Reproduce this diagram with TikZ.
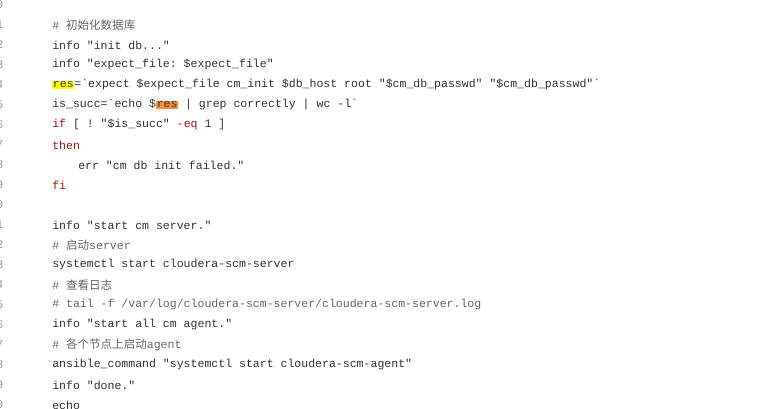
\documentclass[tikz,border=0pt]{standalone}
\usepackage{fontspec}
\setmonofont{Liberation Mono}
\newfontfamily\cjk{Noto Sans CJK SC}
\definecolor{txt}{HTML}{333333}
\definecolor{cmt}{HTML}{666666}
\definecolor{kw}{HTML}{A31515}
\definecolor{lno}{HTML}{999999}
\definecolor{hly}{HTML}{FFFF00}
\definecolor{hlo}{HTML}{F8913D}
\newcommand{\kwd}[1]{\textcolor{kw}{#1}}
\newcommand{\hy}[1]{{\setlength{\fboxsep}{0.5pt}\colorbox{hly}{#1}}}
\newcommand{\ho}[1]{{\setlength{\fboxsep}{0.5pt}\colorbox{hlo}{#1}}}
\begin{document}
\begin{tikzpicture}[x=0.75pt,y=-0.75pt,
  code/.style={anchor=west,inner sep=0pt,font=\ttfamily\fontsize{8.65}{10}\selectfont,text=txt},
  lnum/.style={anchor=west,inner sep=0pt,font=\ttfamily\fontsize{8.65}{10}\selectfont,text=lno}]
\useasboundingbox[fill=white] (0,0) rectangle (782,408);
\foreach \i [evaluate=\i as \d using {int(mod(\i,10))}] in {0,...,20}
  \node[lnum] (n\i) at (-4,{5+20*\i}) {\d};
\node[code,text=cmt] (l1) at (52,25) {\# {\cjk 初始化数据库}};
\node[code] (l2) at (52,45) {info "init db..."};
\node[code] (l3) at (52,65) {info "expect\_file: \$expect\_file"};
\node[code] (l4) at (52,85) {\hy{res}=`expect \$expect\_file cm\_init \$db\_host root "\$cm\_db\_passwd" "\$cm\_db\_passwd"`};
\node[code] (l5) at (52,105) {is\_succ=`echo \$\ho{res} | grep correctly | wc -l`};
\node[code] (l6) at (52,125) {\kwd{if} [ ! "\$is\_succ" \kwd{-eq} 1 ]};
\node[code] (l7) at (52,145) {\kwd{then}};
\node[code] (l8) at (78,165) {err "cm db init failed."};
\node[code] (l9) at (52,185) {\kwd{fi}};
\node[code] (l11) at (52,225) {info "start cm server."};
\node[code,text=cmt] (l12) at (52,245) {\# {\cjk 启动}server};
\node[code] (l13) at (52,265) {systemctl start cloudera-scm-server};
\node[code,text=cmt] (l14) at (52,285) {\# {\cjk 查看日志}};
\node[code,text=cmt] (l15) at (52,305) {\# tail -f /var/log/cloudera-scm-server/cloudera-scm-server.log};
\node[code] (l16) at (52,325) {info "start all cm agent."};
\node[code,text=cmt] (l17) at (52,345) {\# {\cjk 各个节点上启动}agent};
\node[code] (l18) at (52,365) {ansible\_command "systemctl start cloudera-scm-agent"};
\node[code] (l19) at (52,385) {info "done."};
\node[code] (l20) at (52,405) {echo};
\end{tikzpicture}
\end{document}
